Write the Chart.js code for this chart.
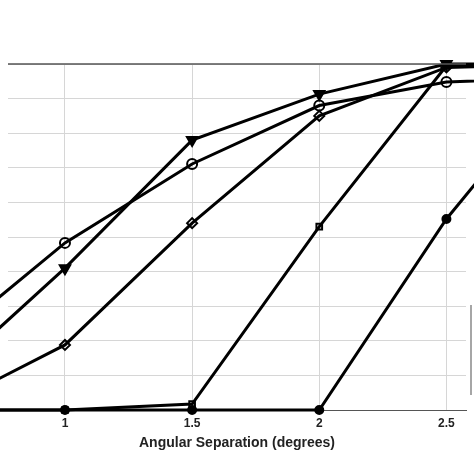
<!DOCTYPE html>
<html>
<head>
<meta charset="utf-8">
<script src="https://cdn.jsdelivr.net/npm/chart.js@4"></script>
<style>html,body{margin:0;background:#fff}#wrap{width:474px;height:474px}</style>
</head>
<body>
<div id="wrap"><canvas id="c"></canvas></div>
<script>
const xs = [0.5, 1, 1.5, 2, 2.5, 3];
const openCircle = [0.18, 0.483, 0.711, 0.88, 0.948, 0.96];
const triangle = [0.075, 0.41, 0.78, 0.913, 1.0, 1.0];
const diamond = [0.0, 0.188, 0.54, 0.85, 0.99, 1.0];
const square = [0, 0, 0.017, 0.53, 0.995, 1.0];
const filledCircle = [0, 0, 0, 0, 0.552, 1.0];
const xTicks = [1, 1.5, 2, 2.5];

function ds(vals, style, rot, fill, r) {
  return {
    data: xs.map((x, i) => ({ x, y: vals[i] })),
    borderColor: '#000', borderWidth: 3,
    pointStyle: style, pointRotation: rot || 0, pointRadius: r || 5,
    pointBorderColor: '#000', pointBorderWidth: 2,
    pointBackgroundColor: fill ? '#000' : 'rgba(0,0,0,0)',
    clip: false
  };
}

const topLine = {
  id: 'topLine',
  afterDraw(chart) {
    const { ctx, chartArea: a } = chart;
    ctx.save();
    ctx.strokeStyle = '#555'; ctx.lineWidth = 1.5;
    ctx.beginPath(); ctx.moveTo(a.left, a.top); ctx.lineTo(a.right, a.top); ctx.stroke();
    ctx.strokeStyle = '#888';
    ctx.beginPath(); ctx.moveTo(471, 305); ctx.lineTo(471, 395); ctx.stroke();
    ctx.restore();
  }
};

const chart = new Chart(document.getElementById('c'), {
  type: 'line',
  data: { datasets: [
    ds(openCircle, 'circle'),
    ds(triangle, 'triangle', 180, true, 6),
    ds(diamond, 'rectRot'),
    ds(square, 'rect', 0, false, 4),
    ds(filledCircle, 'circle', 0, true, 4)
  ] },
  options: {
    responsive: true, maintainAspectRatio: false, animation: false,
    layout: { padding: { top: 64, left: -8, right: -8, bottom: 18 } },
    plugins: { legend: { display: false }, tooltip: { enabled: false } },
    scales: {
      x: {
        type: 'linear', min: 0.776, max: 2.577,
        afterBuildTicks: s => { s.ticks = xTicks.map(v => ({ value: v })); },
        afterFit: s => { s.height = 46; },
        grid: { color: '#d6d6d6', drawTicks: false },
        border: { color: '#555' },
        ticks: { color: '#222', padding: 6, callback: v => String(v),
          font: { family: 'Arial, Liberation Sans', size: 12, weight: 'bold' } },
        title: { display: true, text: 'Angular Separation (degrees)', color: '#222', padding: { top: 2 },
          font: { family: 'Arial, Liberation Sans', size: 14, weight: 'bold' } }
      },
      y: {
        min: 0, max: 1,
        ticks: { display: false, stepSize: 0.1 },
        afterFit: s => { s.width = 0; },
        grid: { color: '#d6d6d6', drawTicks: false },
        border: { display: false }
      }
    }
  },
  plugins: [topLine]
});
</script>
</body>
</html>
